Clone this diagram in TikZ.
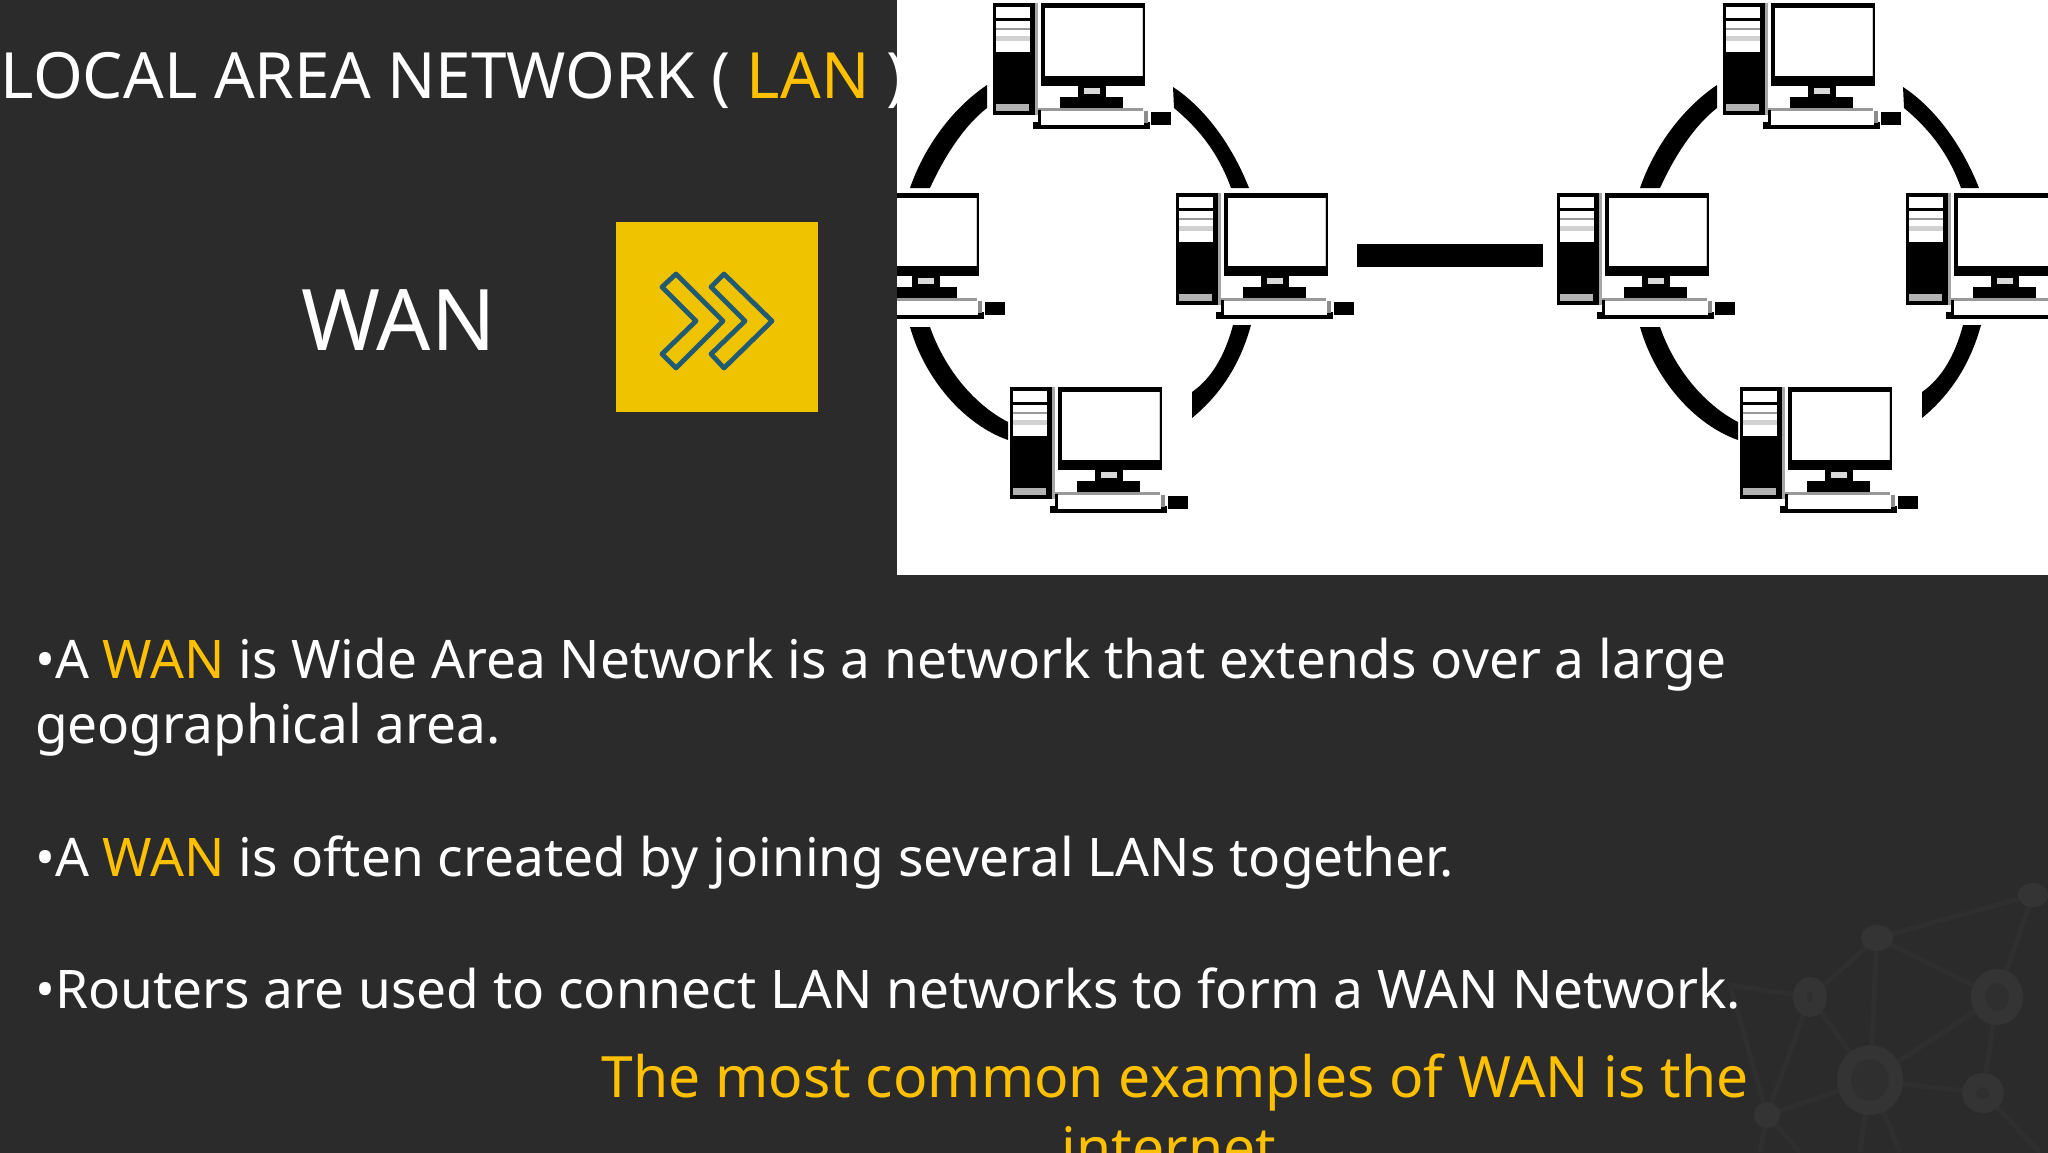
\documentclass[tikz,border=0pt]{standalone}
\usepackage{fontspec}
\setmainfont{Noto Sans}
\definecolor{bgdark}{HTML}{2B2B2B}
\definecolor{gold}{HTML}{FFC000}
\definecolor{squarey}{HTML}{F0C300}
\definecolor{chevblue}{HTML}{215A73}
\definecolor{wm}{HTML}{2F2F2F}
\definecolor{wmb}{HTML}{343434}
\tikzset{
  px/.style={x=0.5pt,y=-0.5pt},
  txt/.style={inner sep=0,outer sep=0,text=white,anchor=base west},
  cable/.style={fill=black,draw=none},
  wmline/.style={draw=wm,line width=2.5pt},
  wmnode/.style={draw=wmb,line width=7pt,fill=wm},
  pics/computer/.style={code={
    % tower
    \fill[black] (-1,0) rectangle (41,112);
    \fill[white] (2,4) rectangle (36,15);
    \fill[white] (2,18) rectangle (36,49);
    \fill[black!18] (2,33) rectangle (36,38);
    \fill[black!40] (2,25) rectangle (36,27);
    \fill[black!30] (2,101) rectangle (35,108);
    \fill[black!35] (41,0) rectangle (44,112);
    % monitor
    \fill[black] (47,0) rectangle (151,83);
    \fill[white] (51,5) rectangle (148,73);
    \fill[black!20] (148,5) rectangle (149,73);
    % stand
    \fill[black] (84,83) rectangle (112,96);
    \fill[black!15] (90,85) rectangle (106,91);
    \fill[black] (66,94) rectangle (129,105);
    % keyboard
    \fill[black!40] (44,105) rectangle (149,108);
    \fill[black] (39,119) rectangle (156,126);
    \fill[black] (44,107) rectangle (47,122);
    \fill[white] (47,108) rectangle (150,122);
    \fill[black!45] (150,108) rectangle (154,120);
    % mouse
    \fill[black] (157,109) rectangle (177,122);
  }}
}
\begin{document}
\begin{tikzpicture}[px]
\useasboundingbox (0,0) rectangle (2048,1152);
\clip (-4,-4) rectangle (2052,1156);
\fill[bgdark] (-4,-4) rectangle (2052,1156);

% watermark
\coordinate (w1) at (1870,1080);
\coordinate (w2) at (1997,997);
\coordinate (w3) at (1810,997);
\coordinate (w4) at (1877,938);
\coordinate (w5) at (1983,1093);
\coordinate (w6) at (1767,1115);
\coordinate (w7) at (2033,895);
\coordinate (w8) at (1730,985);
\path[wmline] (w3)--(w4) (w4)--(w1) (w4)--(w2) (w4)--(w7) (w7)--(w2) (w1)--(w2) (w1)--(w5) (w2)--(w5)
 (w3)--(w1) (w3)--(w6) (w1)--(w6) (w3)--(w8) (w8)--(w6) (w1)--(1860,1152) (w1)--(1900,1152) (w6)--(1800,1152) (w5)--(2040,1152) (w6)--(1760,1152);
\path[wmnode] (w1) ellipse (26 and 28);
\path[wmnode] (w2) ellipse (19 and 21);
\path[wmnode] (w3) ellipse (10 and 13);
\path[wmnode] (w4) ellipse (9 and 6);
\path[wmnode] (w5) ellipse (14 and 13);
\fill[wmb] (w6) circle (13);
\path[wmnode] (w7) ellipse (8 and 5);

% title and labels
\node[txt,font=\fontsize{31.9}{38}\selectfont] (title) at (1,98.5) {LOCAL AREA NETWORK ( \textcolor{gold}{LAN} )};
\node[txt,font=\fontsize{42.5}{51}\selectfont] (wan) at (301,350) {WAN};

% square
\fill[squarey] (616,222) rectangle (818,412);
\draw[chevblue,line width=2.4pt,line join=round] (676,274)--(662,287)--(696,321)--(662,354)--(676,368)--(723,321)--cycle;
\draw[chevblue,line width=2.4pt,line join=round] (724,274)--(711,287)--(745,321)--(711,354)--(724,368)--(772,321)--cycle;

% photo
\begin{scope}
\clip (897,0) rectangle (2052,575);
\fill[white] (897,-4) rectangle (2052,575);
\foreach \dx in {0,730}{
\begin{scope}[xshift=\dx*0.5pt]
  \pic at (994,3) {computer};
  \pic at (828,193) {computer};
  \pic at (1177,193) {computer};
  \pic at (1011,387) {computer};
  \fill[cable] (910,188) .. controls (923,150) and (950,110) .. (987,85) -- (987,108) .. controls (965,125) and (945,155) .. (930,188) -- cycle;
  \fill[cable] (1173,87) .. controls (1205,108) and (1232,145) .. (1249,188) -- (1231,188) .. controls (1218,152) and (1198,128) .. (1174,108) -- cycle;
  \fill[cable] (930,327) .. controls (945,370) and (975,405) .. (1008,422) -- (1008,440) .. controls (965,425) and (925,380) .. (910,327) -- cycle;
  \fill[cable] (1251,325) .. controls (1240,365) and (1220,395) .. (1192,418) -- (1192,392) .. controls (1212,378) and (1225,355) .. (1233,325) -- cycle;
\end{scope}}
\coordinate (barL) at (1357,255.5);
\coordinate (barR) at (1543,255.5);
\draw[black,line width=11.5pt] (barL) -- (barR);
\end{scope}

% body
\node[txt,font=\fontsize{26.6}{33}\selectfont] (b1) at (35,678) {•A \textcolor{gold}{WAN} is Wide Area Network is a network that extends over a large};
\node[txt,font=\fontsize{26.6}{33}\selectfont] (b1b) at (35,743) {geographical area.};
\node[txt,font=\fontsize{26.6}{33}\selectfont] (b2) at (35,876) {•A \textcolor{gold}{WAN} is often created by joining several LANs together.};
\node[txt,font=\fontsize{26.6}{33}\selectfont] (b3) at (35,1008) {•Routers are used to connect LAN networks to form a WAN Network.};
\node[inner sep=0,anchor=base,text=gold,font=\fontsize{28.5}{36}\selectfont] (y1) at (1175,1097) {The most common examples of WAN is the};
\node[inner sep=0,anchor=base,text=gold,font=\fontsize{28.5}{36}\selectfont] (y2) at (1169,1168) {internet};
\end{tikzpicture}
\end{document}
